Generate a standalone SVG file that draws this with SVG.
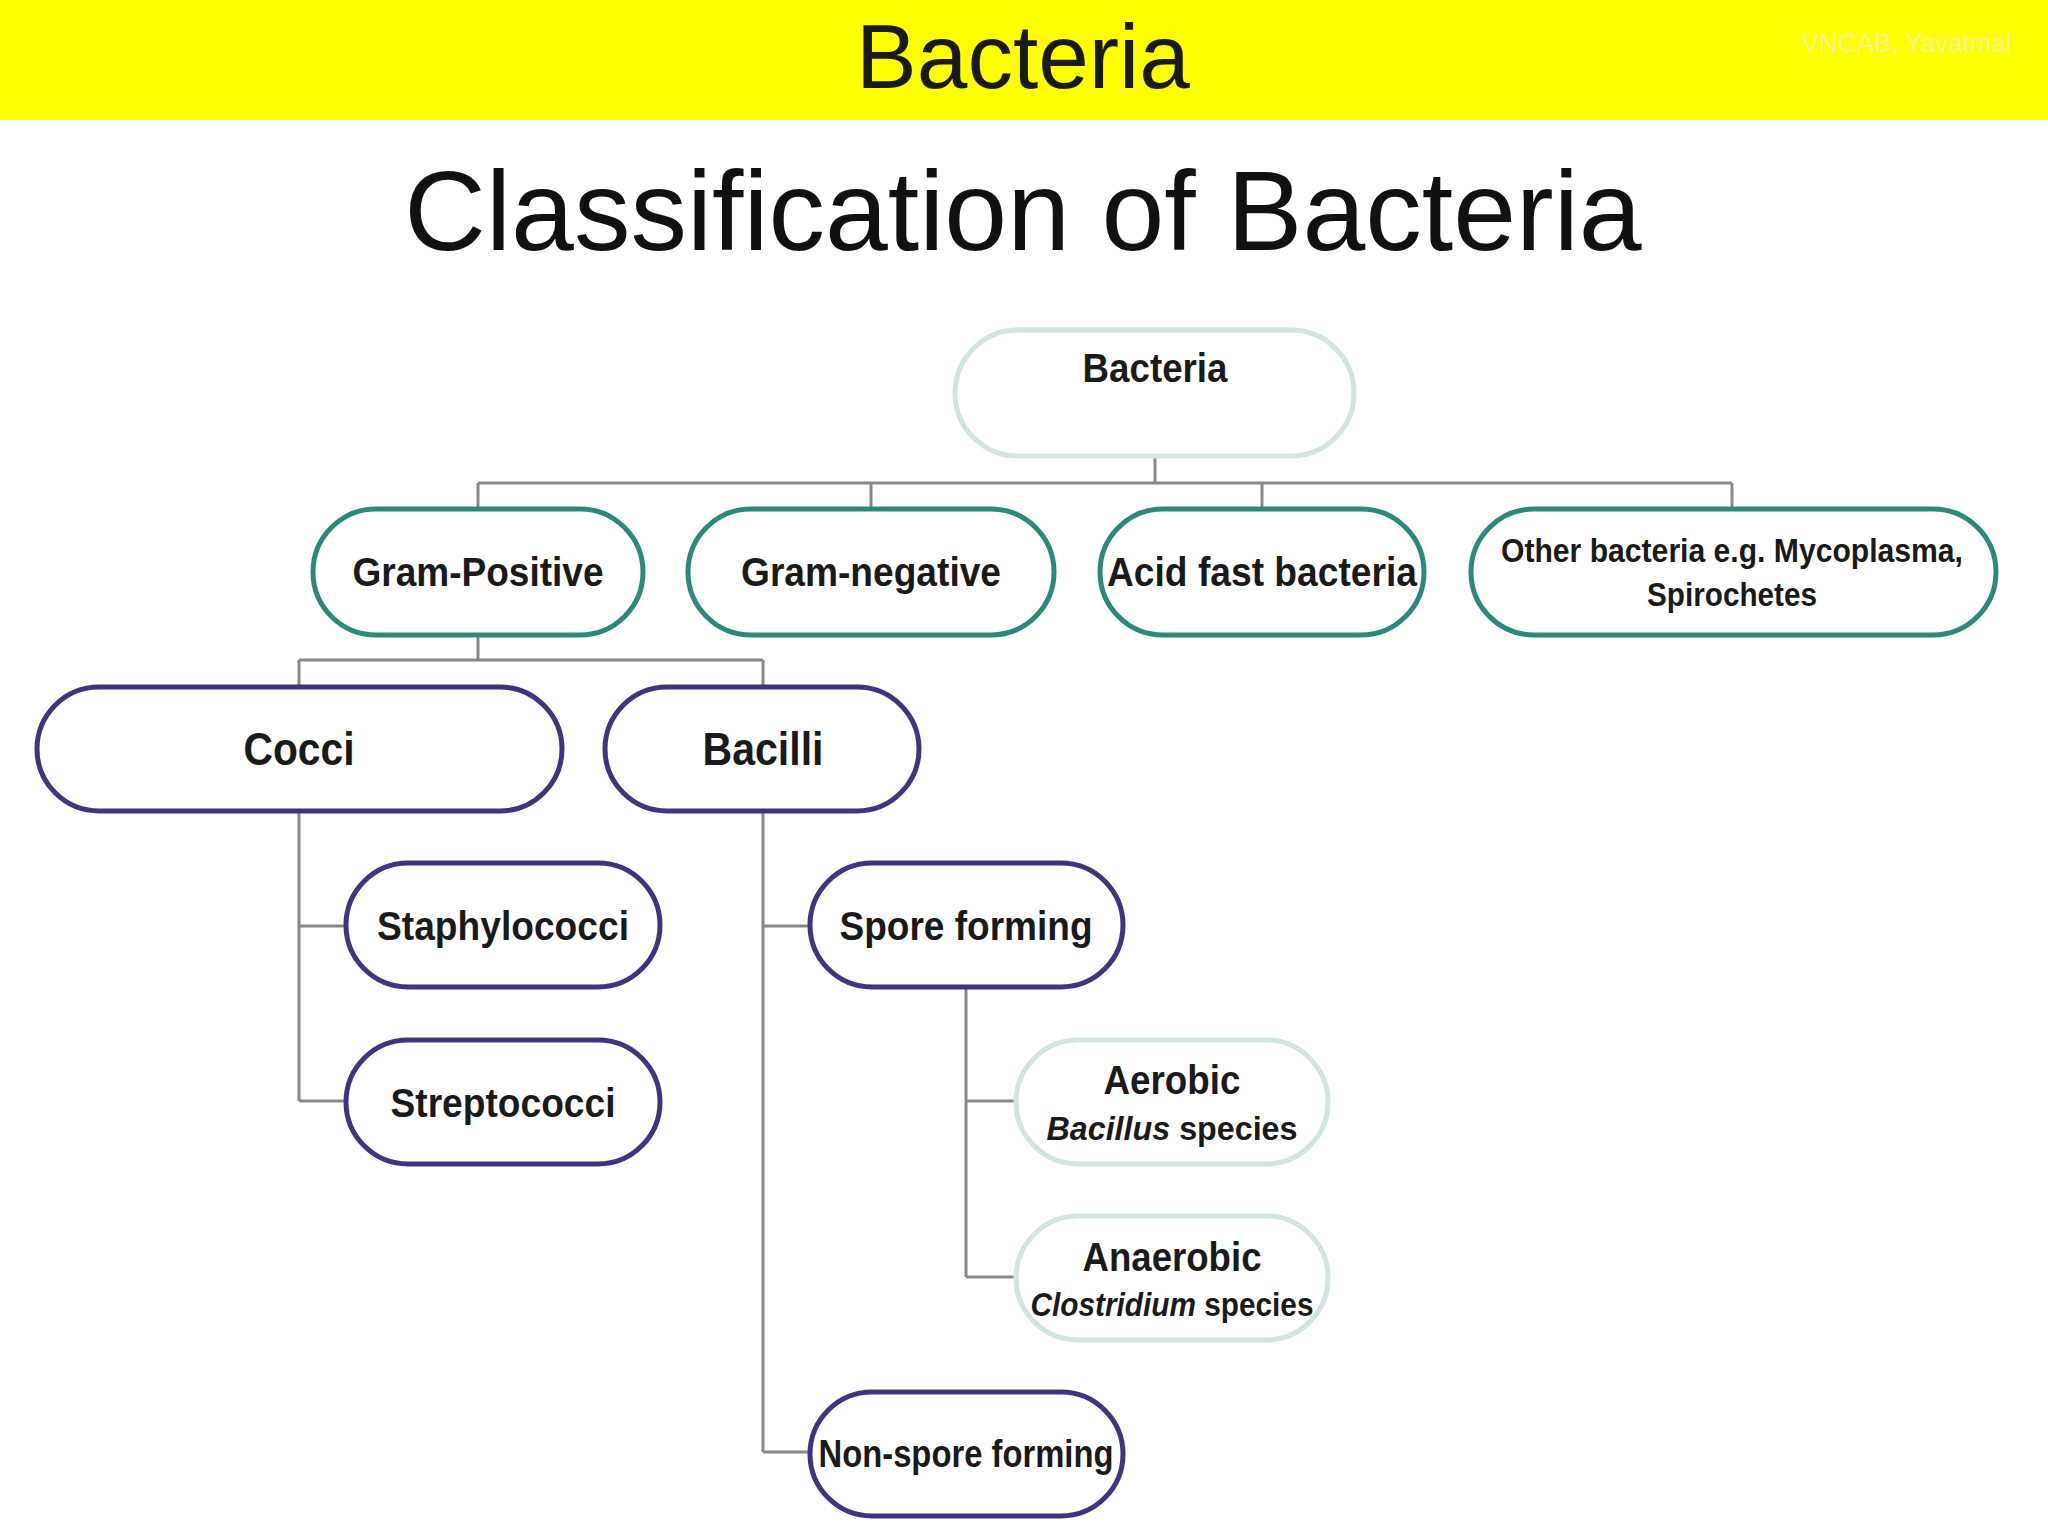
<svg xmlns="http://www.w3.org/2000/svg" width="2048" height="1536" viewBox="0 0 2048 1536">
<style>
.n{fill:#fff;stroke-width:5}
.t{stroke:#2a8a7a}.p{stroke:#3d3580}.l{stroke:#d3e3df}
text{font-family:"Liberation Sans",Arial,sans-serif;font-weight:bold;fill:#1a1a1a;text-anchor:middle}
.c line{stroke:#888;stroke-width:3}
</style>
<rect width="2048" height="1536" fill="#fff"/>
<rect width="2048" height="120" fill="#ffff00"/>
<text x="1023" y="88" style="font-weight:normal;font-size:91px" fill="#000">Bacteria</text>
<text x="1907" y="52" style="font-weight:normal;font-size:26px;fill:#f4f48a">VNCAB, Yavatmal</text>
<text x="1023" y="250" style="font-weight:normal;font-size:113px;fill:#111">Classification of Bacteria</text>
<g class="c">
<line x1="1155" y1="456" x2="1155" y2="483"/><line x1="478" y1="483" x2="1732" y2="483"/>
<line x1="478" y1="483" x2="478" y2="509"/><line x1="871" y1="483" x2="871" y2="509"/>
<line x1="1262" y1="483" x2="1262" y2="509"/><line x1="1732" y1="483" x2="1732" y2="509"/>
<line x1="478" y1="635" x2="478" y2="660"/><line x1="299" y1="660" x2="763" y2="660"/>
<line x1="299" y1="660" x2="299" y2="687"/><line x1="763" y1="660" x2="763" y2="687"/>
<line x1="299" y1="811" x2="299" y2="1101"/><line x1="299" y1="926" x2="346" y2="926"/><line x1="299" y1="1101" x2="346" y2="1101"/>
<line x1="763" y1="811" x2="763" y2="1452"/><line x1="763" y1="926" x2="810" y2="926"/><line x1="763" y1="1452" x2="810" y2="1452"/>
<line x1="966" y1="987" x2="966" y2="1277"/><line x1="966" y1="1101" x2="1016" y2="1101"/><line x1="966" y1="1277" x2="1016" y2="1277"/>
</g>
<g id="bacteria"><rect class="n l" x="955" y="330" width="399" height="126" rx="63"/><text x="1155" y="382" font-size="40" textLength="145" lengthAdjust="spacingAndGlyphs">Bacteria</text></g>
<g id="gp"><rect class="n t" x="313" y="509" width="330" height="126" rx="63"/><text x="478" y="586" font-size="40" textLength="251" lengthAdjust="spacingAndGlyphs">Gram-Positive</text></g>
<g id="gn"><rect class="n t" x="688" y="509" width="366" height="126" rx="63"/><text x="871" y="586" font-size="40" textLength="260" lengthAdjust="spacingAndGlyphs">Gram-negative</text></g>
<g id="af"><rect class="n t" x="1100" y="509" width="324" height="126" rx="63"/><text x="1262" y="586" font-size="40" textLength="310" lengthAdjust="spacingAndGlyphs">Acid fast bacteria</text></g>
<g id="other"><rect class="n t" x="1471" y="509" width="525" height="126" rx="63"/><text x="1732" y="562" font-size="34" textLength="462" lengthAdjust="spacingAndGlyphs">Other bacteria e.g. Mycoplasma,</text><text x="1732" y="606" font-size="34" textLength="170" lengthAdjust="spacingAndGlyphs">Spirochetes</text></g>
<g id="cocci"><rect class="n p" x="37" y="687" width="525" height="124" rx="62"/><text x="299" y="765" font-size="46" textLength="111" lengthAdjust="spacingAndGlyphs">Cocci</text></g>
<g id="bacilli"><rect class="n p" x="605" y="687" width="314" height="124" rx="62"/><text x="763" y="765" font-size="46" textLength="121" lengthAdjust="spacingAndGlyphs">Bacilli</text></g>
<g id="staph"><rect class="n p" x="346" y="863" width="314" height="124" rx="62"/><text x="503" y="940" font-size="40" textLength="252" lengthAdjust="spacingAndGlyphs">Staphylococci</text></g>
<g id="strep"><rect class="n p" x="346" y="1040" width="314" height="124" rx="62"/><text x="503" y="1117" font-size="40" textLength="225" lengthAdjust="spacingAndGlyphs">Streptococci</text></g>
<g id="spore"><rect class="n p" x="810" y="863" width="313" height="124" rx="62"/><text x="966" y="940" font-size="40" textLength="253" lengthAdjust="spacingAndGlyphs">Spore forming</text></g>
<g id="aerobic"><rect class="n l" x="1016" y="1040" width="312" height="124" rx="62"/><text x="1172" y="1094" font-size="40" textLength="137" lengthAdjust="spacingAndGlyphs">Aerobic</text><text x="1172" y="1140" font-size="34" textLength="251" lengthAdjust="spacingAndGlyphs"><tspan font-style="italic">Bacillus</tspan> species</text></g>
<g id="anaerobic"><rect class="n l" x="1016" y="1216" width="312" height="124" rx="62"/><text x="1172" y="1271" font-size="40" textLength="179" lengthAdjust="spacingAndGlyphs">Anaerobic</text><text x="1172" y="1316" font-size="34" textLength="283" lengthAdjust="spacingAndGlyphs"><tspan font-style="italic">Clostridium</tspan> species</text></g>
<g id="nonspore"><rect class="n p" x="810" y="1392" width="313" height="124" rx="62"/><text x="966" y="1467" font-size="38" textLength="295" lengthAdjust="spacingAndGlyphs">Non-spore forming</text></g>
</svg>
